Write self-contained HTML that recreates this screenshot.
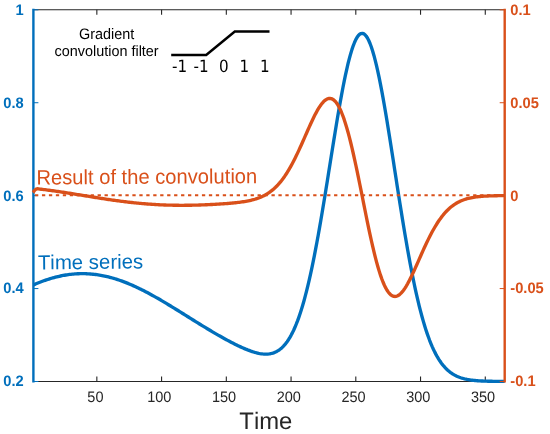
<!DOCTYPE html>
<html><head><meta charset="utf-8"><title>Gradient convolution filter</title>
<style>html,body{margin:0;padding:0;background:#fff}svg{display:block}</style></head>
<body>
<svg width="550" height="434" viewBox="0 0 550 434" text-rendering="geometricPrecision" style="font-kerning:none">
<rect width="550" height="434" fill="#fff"/>
<g stroke="#262626" stroke-width="1.1" fill="none">
<path d="M33.4,9.8 H504.7 M33.4,381.5 H504.7"/>
<path d="M96.84,9.8 v5 M96.84,381.5 v-5 M161.58,9.8 v5 M161.58,381.5 v-5 M226.32,9.8 v5 M226.32,381.5 v-5 M291.06,9.8 v5 M291.06,381.5 v-5 M355.80,9.8 v5 M355.80,381.5 v-5 M420.54,9.8 v5 M420.54,381.5 v-5 M485.28,9.8 v5 M485.28,381.5 v-5"/>
</g>
<g font-family="'Liberation Sans', sans-serif" font-size="14.5" fill="#262626" text-anchor="middle">
<text transform="translate(95.39,402.0) scale(1,1.05)">50</text>
<text transform="translate(159.33,402.0) scale(1,1.05)">100</text>
<text transform="translate(224.07,402.0) scale(1,1.05)">150</text>
<text transform="translate(288.81,402.0) scale(1,1.05)">200</text>
<text transform="translate(353.55,402.0) scale(1,1.05)">250</text>
<text transform="translate(418.29,402.0) scale(1,1.05)">300</text>
<text transform="translate(483.03,402.0) scale(1,1.05)">350</text>
</g>
<text x="265.85" y="429.1" font-family="'Liberation Sans', sans-serif" font-size="23.85" fill="#262626" text-anchor="middle">Time</text>
<g stroke="#006FBC" fill="none">
<path d="M33.4,8.700000000000001 V382.5" stroke-width="2.4"/>
<path d="M33.4,9.80 h5 M33.4,102.72 h5 M33.4,195.65 h4.4 M33.4,288.57 h5 M33.4,381.50 h5" stroke-width="1"/>
</g>
<g font-family="'Liberation Sans', sans-serif" font-size="14.7" font-weight="bold" fill="#006FBC" text-anchor="end">
<text transform="translate(23.7,14.65) scale(1,1.035)">1</text>
<text transform="translate(23.7,107.57) scale(1,1.035)">0.8</text>
<text transform="translate(23.7,200.50) scale(1,1.035)">0.6</text>
<text transform="translate(23.7,293.43) scale(1,1.035)">0.4</text>
<text transform="translate(23.7,386.35) scale(1,1.035)">0.2</text>
</g>
<path d="M33.40,284.90 L34.69,284.34 L35.99,283.80 L37.28,283.26 L38.58,282.74 L39.87,282.24 L41.17,281.74 L42.46,281.26 L43.76,280.79 L45.05,280.34 L46.35,279.90 L47.64,279.47 L48.94,279.06 L50.23,278.66 L51.53,278.27 L52.82,277.90 L54.12,277.54 L55.41,277.20 L56.71,276.87 L58.00,276.56 L59.30,276.27 L60.59,275.99 L61.89,275.72 L63.18,275.47 L64.47,275.24 L65.77,275.02 L67.06,274.82 L68.36,274.63 L69.65,274.46 L70.95,274.31 L72.24,274.17 L73.54,274.05 L74.83,273.94 L76.13,273.86 L77.42,273.78 L78.72,273.73 L80.01,273.69 L81.31,273.67 L82.60,273.66 L83.90,273.67 L85.19,273.70 L86.49,273.74 L87.78,273.80 L89.08,273.88 L90.37,273.97 L91.67,274.08 L92.96,274.21 L94.25,274.35 L95.55,274.51 L96.84,274.69 L98.14,274.88 L99.43,275.08 L100.73,275.31 L102.02,275.54 L103.32,275.80 L104.61,276.07 L105.91,276.35 L107.20,276.66 L108.50,276.97 L109.79,277.30 L111.09,277.65 L112.38,278.01 L113.68,278.38 L114.97,278.77 L116.27,279.18 L117.56,279.60 L118.86,280.03 L120.15,280.47 L121.45,280.93 L122.74,281.40 L124.03,281.89 L125.33,282.39 L126.62,282.90 L127.92,283.42 L129.21,283.96 L130.51,284.51 L131.80,285.07 L133.10,285.64 L134.39,286.22 L135.69,286.81 L136.98,287.42 L138.28,288.03 L139.57,288.65 L140.87,289.29 L142.16,289.93 L143.46,290.59 L144.75,291.25 L146.05,291.92 L147.34,292.60 L148.64,293.29 L149.93,293.99 L151.22,294.69 L152.52,295.41 L153.81,296.13 L155.11,296.85 L156.40,297.59 L157.70,298.32 L158.99,299.07 L160.29,299.82 L161.58,300.58 L162.88,301.34 L164.17,302.11 L165.47,302.88 L166.76,303.66 L168.06,304.44 L169.35,305.23 L170.65,306.01 L171.94,306.81 L173.24,307.60 L174.53,308.40 L175.83,309.20 L177.12,310.00 L178.42,310.80 L179.71,311.61 L181.00,312.42 L182.30,313.23 L183.59,314.04 L184.89,314.85 L186.18,315.66 L187.48,316.47 L188.77,317.28 L190.07,318.09 L191.36,318.90 L192.66,319.70 L193.95,320.51 L195.25,321.32 L196.54,322.12 L197.84,322.93 L199.13,323.73 L200.43,324.52 L201.72,325.32 L203.02,326.11 L204.31,326.90 L205.61,327.69 L206.90,328.47 L208.20,329.26 L209.49,330.03 L210.78,330.80 L212.08,331.57 L213.37,332.34 L214.67,333.10 L215.96,333.85 L217.26,334.60 L218.55,335.34 L219.85,336.08 L221.14,336.82 L222.44,337.54 L223.73,338.26 L225.03,338.98 L226.32,339.68 L227.62,340.38 L228.91,341.07 L230.21,341.76 L231.50,342.44 L232.80,343.10 L234.09,343.76 L235.39,344.41 L236.68,345.05 L237.98,345.67 L239.27,346.29 L240.56,346.89 L241.86,347.48 L243.15,348.05 L244.45,348.61 L245.74,349.16 L247.04,349.68 L248.33,350.19 L249.63,350.67 L250.92,351.14 L252.22,351.58 L253.51,351.99 L254.81,352.38 L256.10,352.73 L257.40,353.05 L258.69,353.34 L259.99,353.59 L261.28,353.79 L262.58,353.95 L263.87,354.06 L265.17,354.12 L266.46,354.12 L267.76,354.06 L269.05,353.92 L270.34,353.72 L271.64,353.44 L272.93,353.08 L274.23,352.62 L275.52,352.07 L276.82,351.42 L278.11,350.66 L279.41,349.78 L280.70,348.78 L282.00,347.64 L283.29,346.37 L284.59,344.95 L285.88,343.37 L287.18,341.63 L288.47,339.72 L289.77,337.62 L291.06,335.34 L292.36,332.87 L293.65,330.19 L294.95,327.30 L296.24,324.20 L297.54,320.87 L298.83,317.31 L300.12,313.52 L301.42,309.49 L302.71,305.21 L304.01,300.69 L305.30,295.92 L306.60,290.90 L307.89,285.63 L309.19,280.11 L310.48,274.34 L311.78,268.34 L313.07,262.10 L314.37,255.63 L315.66,248.94 L316.96,242.03 L318.25,234.93 L319.55,227.64 L320.84,220.18 L322.14,212.56 L323.43,204.80 L324.73,196.93 L326.02,188.95 L327.32,180.90 L328.61,172.80 L329.90,164.67 L331.20,156.54 L332.49,148.44 L333.79,140.38 L335.08,132.41 L336.38,124.56 L337.67,116.84 L338.97,109.29 L340.26,101.95 L341.56,94.83 L342.85,87.98 L344.15,81.41 L345.44,75.17 L346.74,69.27 L348.03,63.74 L349.33,58.60 L350.62,53.89 L351.92,49.62 L353.21,45.81 L354.51,42.49 L355.80,39.66 L357.10,37.33 L358.39,35.54 L359.68,34.27 L360.98,33.54 L362.27,33.35 L363.57,33.71 L364.86,34.60 L366.16,36.04 L367.45,38.00 L368.75,40.49 L370.04,43.49 L371.34,46.99 L372.63,50.97 L373.93,55.42 L375.22,60.31 L376.52,65.62 L377.81,71.34 L379.11,77.42 L380.40,83.86 L381.70,90.62 L382.99,97.67 L384.29,104.98 L385.58,112.53 L386.88,120.29 L388.17,128.22 L389.46,136.30 L390.76,144.49 L392.05,152.76 L393.35,161.10 L394.64,169.46 L395.94,177.83 L397.23,186.18 L398.53,194.48 L399.82,202.70 L401.12,210.84 L402.41,218.86 L403.71,226.74 L405.00,234.48 L406.30,242.05 L407.59,249.43 L408.89,256.62 L410.18,263.61 L411.48,270.38 L412.77,276.92 L414.07,283.23 L415.36,289.31 L416.65,295.14 L417.95,300.74 L419.24,306.08 L420.54,311.19 L421.83,316.05 L423.13,320.67 L424.42,325.05 L425.72,329.20 L427.01,333.11 L428.31,336.81 L429.60,340.28 L430.90,343.55 L432.19,346.61 L433.49,349.47 L434.78,352.14 L436.08,354.63 L437.37,356.95 L438.67,359.10 L439.96,361.09 L441.26,362.93 L442.55,364.64 L443.85,366.21 L445.14,367.65 L446.43,368.98 L447.73,370.19 L449.02,371.30 L450.32,372.32 L451.61,373.25 L452.91,374.09 L454.20,374.86 L455.50,375.55 L456.79,376.18 L458.09,376.75 L459.38,377.26 L460.68,377.72 L461.97,378.14 L463.27,378.51 L464.56,378.85 L465.86,379.15 L467.15,379.42 L468.45,379.66 L469.74,379.87 L471.04,380.06 L472.33,380.23 L473.63,380.38 L474.92,380.51 L476.21,380.62 L477.51,380.73 L478.80,380.82 L480.10,380.90 L481.39,380.97 L482.69,381.03 L483.98,381.08 L485.28,381.13 L486.57,381.17 L487.87,381.21 L489.16,381.24 L490.46,381.27 L491.75,381.29 L493.05,381.31 L494.34,381.33 L495.64,381.35 L496.93,381.36 L498.23,381.38 L499.52,381.39 L500.82,381.39 L502.11,381.40 L503.41,381.40 L504.70,381.40" stroke="#006FBC" stroke-width="3.35" fill="none" stroke-linejoin="round"/>
<text transform="translate(37.9,269.5) rotate(-0.62)" font-family="'Liberation Sans', sans-serif" font-size="20.4" fill="#006FBC">Time series</text>
<path d="M35.0,195.25 H504.7" stroke="#D9501A" stroke-width="2.1" stroke-dasharray="3.3 3.655" fill="none"/>
<path d="M32.90,192.41 L33.40,191.96 L34.69,190.26 L35.99,189.21 L37.28,188.78 L38.58,188.93 L39.87,189.08 L41.17,189.23 L42.46,189.39 L43.76,189.55 L45.05,189.71 L46.35,189.88 L47.64,190.05 L48.94,190.22 L50.23,190.40 L51.53,190.58 L52.82,190.76 L54.12,190.94 L55.41,191.12 L56.71,191.31 L58.00,191.50 L59.30,191.69 L60.59,191.88 L61.89,192.08 L63.18,192.28 L64.47,192.47 L65.77,192.67 L67.06,192.88 L68.36,193.08 L69.65,193.28 L70.95,193.49 L72.24,193.70 L73.54,193.90 L74.83,194.11 L76.13,194.32 L77.42,194.53 L78.72,194.74 L80.01,194.95 L81.31,195.16 L82.60,195.38 L83.90,195.59 L85.19,195.80 L86.49,196.01 L87.78,196.22 L89.08,196.43 L90.37,196.64 L91.67,196.85 L92.96,197.06 L94.25,197.27 L95.55,197.48 L96.84,197.68 L98.14,197.89 L99.43,198.09 L100.73,198.30 L102.02,198.50 L103.32,198.70 L104.61,198.90 L105.91,199.09 L107.20,199.29 L108.50,199.48 L109.79,199.67 L111.09,199.86 L112.38,200.05 L113.68,200.23 L114.97,200.42 L116.27,200.59 L117.56,200.77 L118.86,200.95 L120.15,201.12 L121.45,201.29 L122.74,201.45 L124.03,201.62 L125.33,201.78 L126.62,201.93 L127.92,202.09 L129.21,202.24 L130.51,202.39 L131.80,202.53 L133.10,202.67 L134.39,202.81 L135.69,202.95 L136.98,203.08 L138.28,203.20 L139.57,203.33 L140.87,203.45 L142.16,203.56 L143.46,203.68 L144.75,203.79 L146.05,203.89 L147.34,203.99 L148.64,204.09 L149.93,204.18 L151.22,204.27 L152.52,204.36 L153.81,204.44 L155.11,204.52 L156.40,204.60 L157.70,204.67 L158.99,204.74 L160.29,204.80 L161.58,204.86 L162.88,204.91 L164.17,204.97 L165.47,205.01 L166.76,205.06 L168.06,205.10 L169.35,205.13 L170.65,205.17 L171.94,205.20 L173.24,205.22 L174.53,205.24 L175.83,205.26 L177.12,205.28 L178.42,205.29 L179.71,205.30 L181.00,205.30 L182.30,205.30 L183.59,205.30 L184.89,205.29 L186.18,205.28 L187.48,205.27 L188.77,205.26 L190.07,205.24 L191.36,205.21 L192.66,205.19 L193.95,205.16 L195.25,205.13 L196.54,205.10 L197.84,205.06 L199.13,205.02 L200.43,204.98 L201.72,204.93 L203.02,204.89 L204.31,204.84 L205.61,204.78 L206.90,204.73 L208.20,204.67 L209.49,204.61 L210.78,204.54 L212.08,204.48 L213.37,204.41 L214.67,204.34 L215.96,204.26 L217.26,204.19 L218.55,204.11 L219.85,204.03 L221.14,203.94 L222.44,203.85 L223.73,203.76 L225.03,203.67 L226.32,203.57 L227.62,203.47 L228.91,203.36 L230.21,203.25 L231.50,203.13 L232.80,203.01 L234.09,202.88 L235.39,202.75 L236.68,202.60 L237.98,202.45 L239.27,202.29 L240.56,202.12 L241.86,201.94 L243.15,201.75 L244.45,201.55 L245.74,201.33 L247.04,201.09 L248.33,200.84 L249.63,200.57 L250.92,200.28 L252.22,199.96 L253.51,199.62 L254.81,199.25 L256.10,198.85 L257.40,198.42 L258.69,197.95 L259.99,197.45 L261.28,196.91 L262.58,196.32 L263.87,195.68 L265.17,195.00 L266.46,194.26 L267.76,193.46 L269.05,192.61 L270.34,191.69 L271.64,190.70 L272.93,189.64 L274.23,188.51 L275.52,187.30 L276.82,186.01 L278.11,184.63 L279.41,183.17 L280.70,181.62 L282.00,179.98 L283.29,178.25 L284.59,176.42 L285.88,174.50 L287.18,172.49 L288.47,170.38 L289.77,168.17 L291.06,165.88 L292.36,163.49 L293.65,161.02 L294.95,158.47 L296.24,155.84 L297.54,153.14 L298.83,150.38 L300.12,147.56 L301.42,144.69 L302.71,141.79 L304.01,138.86 L305.30,135.92 L306.60,132.97 L307.89,130.04 L309.19,127.13 L310.48,124.27 L311.78,121.47 L313.07,118.74 L314.37,116.10 L315.66,113.58 L316.96,111.18 L318.25,108.94 L319.55,106.86 L320.84,104.97 L322.14,103.28 L323.43,101.81 L324.73,100.58 L326.02,99.61 L327.32,98.91 L328.61,98.50 L329.90,98.39 L331.20,98.60 L332.49,99.13 L333.79,99.99 L335.08,101.20 L336.38,102.75 L337.67,104.66 L338.97,106.92 L340.26,109.53 L341.56,112.49 L342.85,115.79 L344.15,119.43 L345.44,123.40 L346.74,127.68 L348.03,132.26 L349.33,137.13 L350.62,142.27 L351.92,147.64 L353.21,153.25 L354.51,159.05 L355.80,165.02 L357.10,171.14 L358.39,177.38 L359.68,183.71 L360.98,190.10 L362.27,196.52 L363.57,203.05 L364.86,209.54 L366.16,215.98 L367.45,222.32 L368.75,228.54 L370.04,234.61 L371.34,240.51 L372.63,246.21 L373.93,251.68 L375.22,256.90 L376.52,261.85 L377.81,266.52 L379.11,270.88 L380.40,274.92 L381.70,278.62 L382.99,281.99 L384.29,285.01 L385.58,287.67 L386.88,289.98 L388.17,291.93 L389.46,293.53 L390.76,294.77 L392.05,295.67 L393.35,296.23 L394.64,296.46 L395.94,296.37 L397.23,295.98 L398.53,295.30 L399.82,294.34 L401.12,293.13 L402.41,291.67 L403.71,289.99 L405.00,288.11 L406.30,286.03 L407.59,283.79 L408.89,281.40 L410.18,278.89 L411.48,276.26 L412.77,273.54 L414.07,270.74 L415.36,267.88 L416.65,264.99 L417.95,262.07 L419.24,259.13 L420.54,256.21 L421.83,253.29 L423.13,250.41 L424.42,247.56 L425.72,244.77 L427.01,242.03 L428.31,239.36 L429.60,236.76 L430.90,234.25 L432.19,231.81 L433.49,229.47 L434.78,227.22 L436.08,225.06 L437.37,223.00 L438.67,221.03 L439.96,219.16 L441.26,217.39 L442.55,215.72 L443.85,214.14 L445.14,212.65 L446.43,211.25 L447.73,209.95 L449.02,208.72 L450.32,207.58 L451.61,206.52 L452.91,205.54 L454.20,204.63 L455.50,203.79 L456.79,203.01 L458.09,202.29 L459.38,201.64 L460.68,201.04 L461.97,200.48 L463.27,199.98 L464.56,199.52 L465.86,199.11 L467.15,198.73 L468.45,198.39 L469.74,198.08 L471.04,197.80 L472.33,197.55 L473.63,197.32 L474.92,197.12 L476.21,196.94 L477.51,196.78 L478.80,196.63 L480.10,196.50 L481.39,196.39 L482.69,196.29 L483.98,196.20 L485.28,196.12 L486.57,196.05 L487.87,195.99 L489.16,195.93 L490.46,195.89 L491.75,195.84 L493.05,195.81 L494.34,195.78 L495.64,195.75 L496.93,195.72 L498.23,195.70 L499.52,195.69 L500.82,195.67 L502.11,195.66 L503.41,195.64 L504.70,195.63" stroke="#D9501A" stroke-width="3.35" fill="none" stroke-linejoin="round"/>
<text transform="translate(36.4,184.5) rotate(-0.36) scale(1,1.03)" font-family="'Liberation Sans', sans-serif" font-size="20.18" fill="#D9501A">Result of the convolution</text>
<g stroke="#D9501A" fill="none">
<path d="M504.7,8.700000000000001 V382.5" stroke-width="2.4"/>
<path d="M504.7,9.80 h-5 M504.7,102.72 h-5 M504.7,195.65 h-5 M504.7,288.57 h-5 M504.7,381.50 h-5" stroke-width="1"/>
</g>
<g font-family="'Liberation Sans', sans-serif" font-size="14.7" font-weight="bold" fill="#D9501A">
<text transform="translate(510.3,14.65) scale(1,1.035)">0.1</text>
<text transform="translate(510.3,107.57) scale(1,1.035)">0.05</text>
<text transform="translate(510.3,200.50) scale(1,1.035)">0</text>
<text transform="translate(510.3,293.43) scale(1,1.035)">-0.05</text>
<text transform="translate(510.3,386.35) scale(1,1.035)">-0.1</text>
</g>
<g font-family="'Liberation Sans', sans-serif" font-size="14.42" fill="#000" text-anchor="middle"><text transform="translate(106.7,38.7) scale(1,1.05)">Gradient</text><text transform="translate(106.6,56.25) scale(1,1.04)">convolution filter</text></g>
<path d="M171.2,55.0 H206.2 L234.8,31.5 H269.5" stroke="#000" stroke-width="2.5" fill="none" stroke-linejoin="miter"/>
<g font-family="'DejaVu Sans', sans-serif" font-size="15.15" fill="#000" text-anchor="middle">
<text transform="translate(179.6,71.95) scale(1,1.12)">-1</text>
<text transform="translate(201.0,71.95) scale(1,1.12)">-1</text>
<text transform="translate(223.7,71.95) scale(1,1.12)">0</text>
<text transform="translate(244.4,71.95) scale(1,1.12)">1</text>
<text transform="translate(264.8,71.95) scale(1,1.12)">1</text>
</g>
</svg>
</body></html>
